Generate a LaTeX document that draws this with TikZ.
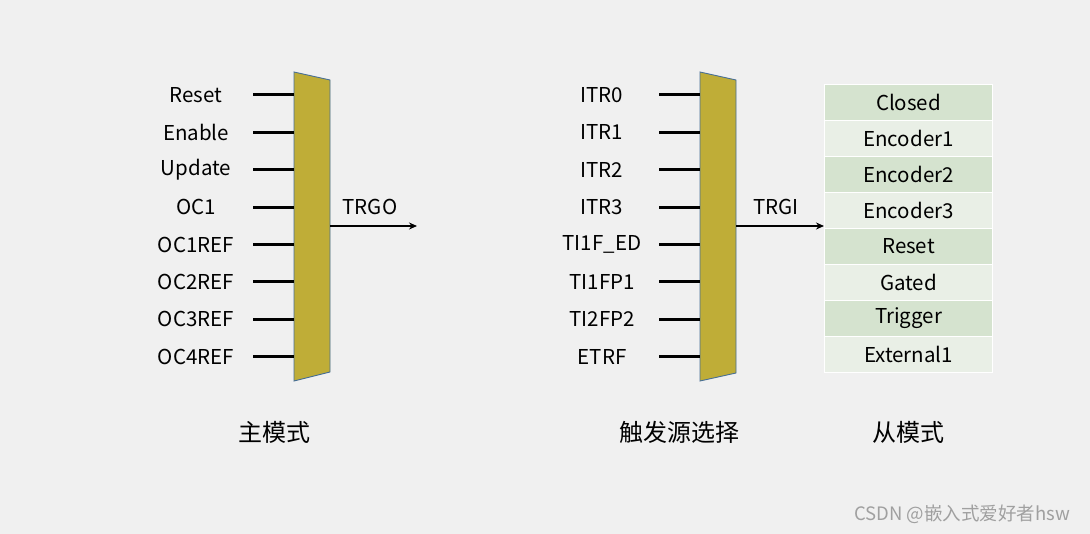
\documentclass[tikz,border=0pt]{standalone}
\usepackage{fontspec}
\setmainfont{Noto Sans CJK SC}
\usepackage{tikz}
\usetikzlibrary{arrows.meta}
\definecolor{bggray}{RGB}{240,240,240}
\definecolor{muxfill}{RGB}{191,173,55}
\definecolor{muxline}{RGB}{70,110,150}
\definecolor{rowdark}{RGB}{213,227,207}
\definecolor{rowlight}{RGB}{233,239,230}
\definecolor{marktext}{RGB}{160,160,160}

\begin{document}
\begin{tikzpicture}[x=1pt, y=-1pt,
    sig/.style={font=\fontsize{20.5}{23}\selectfont, text=black, inner sep=0pt},
    inwire/.style={line width=3pt, black},
    outwire/.style={line width=2.2pt, black, -{Stealth[length=8pt, width=7pt]}},
    mux/.style={fill=muxfill, draw=muxline, line width=0.9pt},
    caption/.style={font=\fontsize{24}{27}\selectfont, inner sep=0pt}]
    \useasboundingbox[fill=bggray] (0,0) rectangle (1090,534);

    % master mode mux
    \coordinate (mmux-tl) at (294,72);
    \coordinate (mmux-tr) at (330,80);
    \coordinate (mmux-br) at (330,372);
    \coordinate (mmux-bl) at (294,381);
    \draw[mux] (mmux-tl) -- (mmux-tr) -- (mmux-br) -- (mmux-bl) -- cycle;
    \foreach \name [count=\i from 0] in {Reset, Enable, Update, OC1, OC1REF, OC2REF, OC3REF, OC4REF} {
        \node(mlab-\i)[sig] at (196, {95+\i*37.4}) {\name};
        \coordinate (mwire-\i) at (253, {95+\i*37.4});
        \coordinate (min-\i) at (294, {95+\i*37.4});
        \draw[inwire] (mwire-\i) -- (min-\i);
    }
    \coordinate (mout) at (330,226);
    \coordinate (mend) at (417,226);
    \draw[outwire] (mout) -- (mend);
    \node(trgo)[sig] at (370,207) {TRGO};

    % trigger source mux
    \coordinate (smux-tl) at (700,72);
    \coordinate (smux-tr) at (736,80);
    \coordinate (smux-br) at (736,373);
    \coordinate (smux-bl) at (700,381);
    \draw[mux] (smux-tl) -- (smux-tr) -- (smux-br) -- (smux-bl) -- cycle;
    \foreach \name [count=\i from 0] in {ITR0, ITR1, ITR2, ITR3, TI1F\_ED, TI1FP1, TI2FP2, ETRF} {
        \node(slab-\i)[sig] at (602, {95+\i*37.4}) {\name};
        \coordinate (swire-\i) at (659, {95+\i*37.4});
        \coordinate (sin-\i) at (700, {95+\i*37.4});
        \draw[inwire] (swire-\i) -- (sin-\i);
    }
    \node(trgi)[sig] at (776,207) {TRGI};

    % slave mode table
    \foreach \mode [count=\i from 0, evaluate=\i as \shade using {int(mod(\i,2))}] in {Closed, Encoder1, Encoder2, Encoder3, Reset, Gated, Trigger, External1} {
        \ifnum\shade=0 \def\rowcol{rowdark}\else \def\rowcol{rowlight}\fi
        \node(row-\i)[
            sig,
            fill=\rowcol,
            draw=white,
            line width=1pt,
            minimum width=168pt,
            minimum height=36pt,
            anchor=north west
        ]
        at (824, {84+\i*36}) {\mode};
    }
    \coordinate (sout) at (736,226);
    \draw[outwire] (sout) -- (sout -| row-3.west);

    % captions
    \node(master)[caption] at (274,432) {主模式};
    \node(source)[caption] at (679,432) {触发源选择};
    \node(slave)[caption] at (908,432) {从模式};
    \node(mark)[font=\fontsize{18.5}{21}\selectfont, text=marktext, inner sep=0pt] at (962,514) {CSDN @嵌入式爱好者hsw};
\end{tikzpicture}
\end{document}
